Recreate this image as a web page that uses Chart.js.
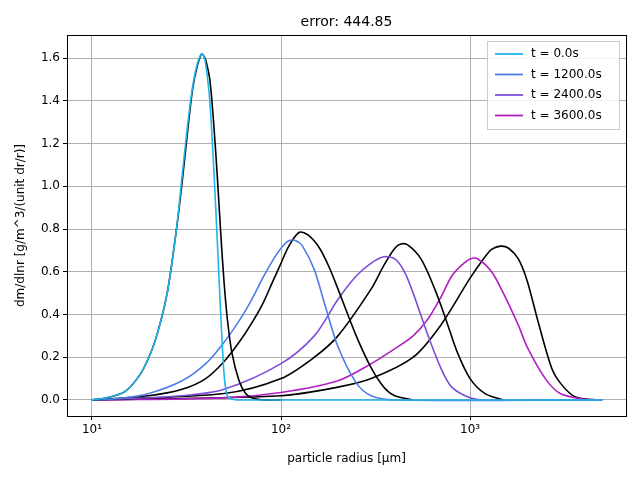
<!DOCTYPE html>
<html>
<head>
<meta charset="utf-8">
<script src="https://cdn.jsdelivr.net/npm/chart.js@4.4.0/dist/chart.umd.min.js"></script>
<style>
  body { margin: 0; background: #fff; }
  #wrap { width: 640px; height: 480px; }
</style>
</head>
<body>
<div id="wrap"><canvas id="sizeChart" width="640" height="480"></canvas></div>
<script>
// measured (coloured) and modelled (black) mass distributions
const labels = ['t = 0.0s', 't = 1200.0s', 't = 2400.0s', 't = 3600.0s'];
const colors = ['#1fb4ea', '#4f7de6', '#7c4ed6', '#b01fbf'];

const r0 = [10, 12, 15, 18, 20, 22, 25, 28, 30, 32, 34, 36, 38, 39, 40, 42, 44, 46, 48, 50, 52, 55, 60, 80, 200, 5000];
const m0 = [0, 0.01, 0.04, 0.12, 0.2, 0.3, 0.5, 0.8, 1.05, 1.28, 1.46, 1.57, 1.62, 1.61, 1.57, 1.4, 1.1, 0.75, 0.4, 0.12, 0.02, 0.005, 0, 0, 0, 0];
const r0m = [10, 12, 15, 18, 20, 22, 25, 28, 30, 32, 34, 36, 38, 39, 40, 42, 44, 46, 48, 50, 52, 55, 60, 65, 70, 80, 100];
const m0m = [0, 0.01, 0.04, 0.12, 0.2, 0.3, 0.5, 0.8, 1.02, 1.25, 1.45, 1.56, 1.62, 1.61, 1.59, 1.5, 1.3, 1.05, 0.78, 0.55, 0.38, 0.22, 0.09, 0.03, 0.01, 0, 0];

const r1 = [10, 15, 20, 30, 40, 50, 60, 70, 80, 90, 100, 110, 120, 130, 150, 170, 200, 250, 300, 400, 5000];
const m1 = [0, 0.01, 0.03, 0.09, 0.17, 0.27, 0.37, 0.47, 0.57, 0.65, 0.71, 0.745, 0.745, 0.72, 0.61, 0.45, 0.25, 0.08, 0.02, 0, 0];
const r1m = [10, 20, 30, 40, 50, 60, 70, 80, 90, 100, 110, 125, 140, 160, 180, 200, 250, 300, 350, 400, 500];
const m1m = [0, 0.02, 0.05, 0.1, 0.18, 0.27, 0.36, 0.45, 0.55, 0.64, 0.72, 0.785, 0.77, 0.71, 0.62, 0.52, 0.3, 0.15, 0.06, 0.02, 0];

const r2 = [10, 30, 50, 100, 150, 200, 250, 300, 350, 400, 450, 500, 600, 700, 800, 1000, 1200, 5000];
const m2 = [0, 0.02, 0.05, 0.17, 0.3, 0.47, 0.58, 0.64, 0.67, 0.66, 0.6, 0.5, 0.3, 0.15, 0.06, 0.01, 0, 0];
const r2m = [10, 50, 100, 150, 200, 300, 350, 400, 430, 470, 550, 650, 750, 850, 1000, 1200, 1500];
const m2m = [0, 0.03, 0.1, 0.2, 0.3, 0.52, 0.63, 0.71, 0.73, 0.725, 0.66, 0.52, 0.37, 0.23, 0.1, 0.03, 0];

const r3 = [10, 50, 100, 200, 300, 400, 500, 600, 700, 800, 900, 1000, 1100, 1300, 1500, 1800, 2000, 2500, 3000, 4000, 5000];
const m3 = [0, 0.01, 0.035, 0.09, 0.17, 0.24, 0.3, 0.38, 0.48, 0.58, 0.63, 0.66, 0.66, 0.6, 0.5, 0.35, 0.25, 0.1, 0.03, 0.003, 0];
const r3m = [10, 100, 200, 300, 500, 700, 1000, 1200, 1300, 1450, 1600, 1800, 2000, 2300, 2700, 3000, 3500, 4000, 5000];
const m3m = [0, 0.02, 0.06, 0.1, 0.2, 0.35, 0.57, 0.67, 0.705, 0.72, 0.71, 0.66, 0.56, 0.36, 0.15, 0.08, 0.02, 0.005, 0];

const measured = [[r0, m0], [r1, m1], [r2, m2], [r3, m3]];
const modelled = [[r0m, m0m], [r1m, m1m], [r2m, m2m], [r3m, m3m]];
const xTicks = [10, 100, 1000];
const xTickText = ['10¹', '10²', '10³'];
const yTicks = [0, 0.2, 0.4, 0.6, 0.8, 1.0, 1.2, 1.4, 1.6];

function pts(pair) {
    return pair[0].map((r, i) => ({ x: r, y: pair[1][i] }));
}

const datasets = [];
measured.forEach((pair, i) => {
    datasets.push({ label: labels[i], data: pts(pair), borderColor: colors[i], borderWidth: 1.6, pointRadius: 0, tension: 0.3, fill: false });
    datasets.push({ label: '', data: pts(modelled[i]), borderColor: '#000', borderWidth: 1.6, pointRadius: 0, tension: 0.3, fill: false });
});

// title, frame and legend drawn matplotlib-style
const decorPlugin = {
    id: 'decor',
    afterDraw(chart) {
        const ctx = chart.ctx;
        const a = chart.chartArea;
        ctx.save();
        ctx.strokeStyle = '#000';
        ctx.lineWidth = 1;
        ctx.strokeRect(a.left + 0.5, a.top + 0.5, a.right - a.left, a.bottom - a.top);
        ctx.fillStyle = '#000';
        ctx.font = '14px "DejaVu Sans"';
        ctx.textAlign = 'center';
        ctx.textBaseline = 'bottom';
        ctx.fillText('error: 444.85', (a.left + a.right) / 2, a.top - 6);
        // legend
        const w = 132, h = 88, x0 = a.right - w - 7, y0 = a.top + 6;
        ctx.fillStyle = 'rgba(255,255,255,0.85)';
        ctx.strokeStyle = '#ccc';
        ctx.fillRect(x0, y0, w, h);
        ctx.strokeRect(x0 + 0.5, y0 + 0.5, w, h);
        ctx.font = '12px "DejaVu Sans"';
        ctx.textAlign = 'left';
        ctx.textBaseline = 'middle';
        labels.forEach((lab, i) => {
            const yy = y0 + 13 + i * 20.5;
            ctx.strokeStyle = colors[i];
            ctx.lineWidth = 1.8;
            ctx.beginPath();
            ctx.moveTo(x0 + 8, yy);
            ctx.lineTo(x0 + 36, yy);
            ctx.stroke();
            ctx.fillStyle = '#000';
            ctx.fillText(lab, x0 + 44, yy);
        });
        ctx.restore();
    }
};

new Chart(document.getElementById('sizeChart'), {
    type: 'line',
    data: { datasets: datasets },
    plugins: [decorPlugin],
    options: {
        responsive: false,
        animation: false,
        layout: { padding: { top: 35, right: 14, left: 12, bottom: 0 } },
        plugins: { legend: { display: false }, tooltip: { enabled: false } },
        scales: {
            x: {
                type: 'logarithmic',
                min: 7.38, max: 6680,
                afterBuildTicks: s => { s.ticks = xTicks.map(v => ({ value: v })); },
                afterFit: s => { s.height = 64; },
                ticks: { color: '#000', font: { family: 'DejaVu Sans', size: 12 }, maxRotation: 0, autoSkip: false,
                         callback: (v) => xTickText[xTicks.indexOf(v)] },
                grid: { color: '#b0b0b0', tickColor: '#000', tickLength: 4 },
                border: { display: false },
                title: { display: true, text: 'particle radius [µm]', color: '#000', font: { family: 'DejaVu Sans', size: 12 }, padding: { top: 0, bottom: 14 } }
            },
            y: {
                min: -0.075, max: 1.708,
                afterBuildTicks: s => { s.ticks = yTicks.map(v => ({ value: v })); },
                afterFit: s => { s.width = 55; },
                ticks: { color: '#000', font: { family: 'DejaVu Sans', size: 12 }, callback: v => v.toFixed(1) },
                grid: { color: '#b0b0b0', tickColor: '#000', tickLength: 4 },
                border: { display: false },
                title: { display: true, text: 'dm/dlnr [g/m^3/(unit dr/r)]', color: '#000', font: { family: 'DejaVu Sans', size: 12 }, padding: 2 }
            }
        }
    }
});
</script>
</body>
</html>
